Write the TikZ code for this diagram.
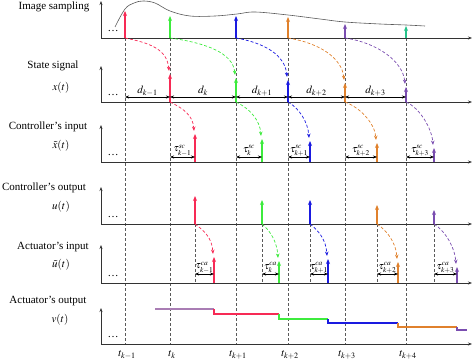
\documentclass[tikz,border=0pt]{standalone}
\usepackage{mathptmx}
\usepackage{fontspec}
\setmainfont{Liberation Serif}
\usetikzlibrary{arrows.meta, positioning, calc}
\definecolor{sigRed}{HTML}{F72A55}
\definecolor{sigGreen}{HTML}{3DEB3D}
\definecolor{sigBlue}{HTML}{1A1AE0}
\definecolor{sigOrange}{HTML}{E0812C}
\definecolor{sigPurple}{HTML}{7A4DB0}
\definecolor{sigTeal}{HTML}{26C28A}
\definecolor{sigMauve}{HTML}{A97DB4}
\colorlet{axisgray}{black!80}
\colorlet{gridgray}{black!65}

\begin{document}
\begin{tikzpicture}[x=1pt, y=-1pt,
  every node/.style={font=\fontsize{11}{13}\selectfont},
  axis/.style={draw=axisgray, line width=0.6pt, {Stealth[length=4pt,width=3pt]}-{Stealth[length=4pt,width=3pt]}},
  tline/.style={draw=gridgray, densely dashed, line width=0.4pt},
  pulse/.style={line width=1.1pt, -{Stealth[length=5pt,width=4pt]}},
  hop/.style={densely dashed, line width=0.7pt, -{Stealth[length=4.5pt,width=3.5pt]}},
  span/.style={line width=0.5pt, {Stealth[length=4pt,width=3pt]}-{Stealth[length=4pt,width=3pt]}},
  level/.style={line width=1.3pt},
  lab/.style={font=\fontsize{11}{13}\selectfont, inner sep=1pt},
  sublab/.style={font=\fontsize{10}{12}\selectfont, inner sep=1pt}
]
  \useasboundingbox (0,0) rectangle (474,361);

  \node (lImg) at (54,7) {Image sampling};
  \node (lState) at (53,66) {State signal};
  \node (lX) at (61,88) {$x(t)$};
  \node (lCin) at (48,127) {Controller’s input};
  \node (lXt) at (61,146) {$\tilde{x}(t)$};
  \node (lCout) at (44,188) {Controller’s output};
  \node (lU) at (61,207) {$u(t)$};
  \node (lAin) at (53,247) {Actuator’s input};
  \node (lUt) at (61,265) {$\tilde{u}(t)$};
  \node (lAout) at (48,301) {Actuator’s output};
  \node (lV) at (60,320) {$v(t)$};

  % time lines
  \foreach \x/\k in {125/k-1, 170/k, 236/k+1, 288/k+2, 345/k+3, 406/k+4} {
    \coordinate (tA\x) at (\x,38);
    \coordinate (tB\x) at (\x,344);
    \draw[tline] (tA\x) -- (tB\x) node[below=3pt, xshift=2pt] (tl\x) {$t_{\k}$};
  }

  % axes
  \foreach \r/\yb/\yt in {1/38/1, 2/102/66, 3/162/125, 4/224/187, 5/283/245, 6/344/308} {
    \coordinate (top\r) at (101,\yt);
    \coordinate (org\r) at (101,\yb);
    \coordinate (end\r) at (472,\yb);
    \draw[axis] (top\r) -- (org\r) -- (end\r);
    \node (dots\r) at (113,\yb-7) {\dots};
  }

  \draw[black!65, line width=0.6pt] plot[smooth, tension=0.6] coordinates {(115,27) (125,9) (134,3) (143,1) (155,3) (170,11) (190,16) (215,16) (237,14) (255,12) (288,15) (320,19) (345,22) (380,24) (406,25) (425,26)};

  \foreach \x/\h/\col [count=\i] in {125/11/sigRed, 170/16/sigGreen, 236/16/sigBlue, 288/17/sigOrange, 345/24/sigPurple, 406/26/sigTeal} {
    \coordinate (smp\i) at (\x,38);
    \coordinate (smpT\i) at (\x,\h);
    \draw[pulse, \col] (smp\i) -- (smpT\i);
  }

  \foreach \tp/\ts/\tc/\ta/\col/\hs/\hc/\ho/\ha/\k [count=\i] in {
    125/170/195/214/sigRed/74/134/196/257/k-1,
    170/236/262/279/sigGreen/78/139/200/261/k,
    236/288/310/328/sigBlue/80/141/200/259/k+1,
    288/345/377/398/sigOrange/83/143/205/262/k+2,
    345/406/434/457/sigPurple/87/148/210/267/k+3} {
    % state signal
    \coordinate (img\i) at (\tp,38);
    \coordinate (st\i) at (\ts,102);
    \coordinate (stT\i) at (\ts,\hs);
    \coordinate (stIn\i) at (\ts-1,\hs-3);
    \draw[hop, \col] (img\i) .. controls +({0.55*(\ts-\tp)},5) and +(-2,-22) .. (stIn\i);
    \draw[pulse, \col] (st\i) -- (stT\i);
    \coordinate (dL\i) at (\tp,97);
    \coordinate (dR\i) at (\ts,97);
    \draw[span] (dL\i) -- node[lab, above] (d\i) {$d_{\k}$} (dR\i);
    % controller
    \coordinate (ci\i) at (\tc,162);
    \coordinate (ciT\i) at (\tc,\hc);
    \coordinate (ciIn\i) at (\tc-1,\hc-3);
    \draw[hop, \col] (st\i) .. controls +({0.5*(\tc-\ts)},6) and +(-1,-16) .. (ciIn\i);
    \draw[pulse, \col] (ci\i) -- (ciT\i);
    \coordinate (scL\i) at (\ts,157);
    \coordinate (scR\i) at (\tc,157);
    \draw[span] (scL\i) -- node[sublab, above] (sc\i) {$\tau^{sc}_{\k}$} (scR\i);
    \coordinate (co\i) at (\tc,224);
    \coordinate (coT\i) at (\tc,\ho);
    \draw[pulse, \col] (co\i) -- (coT\i);
    \coordinate (cx\i) at (\tc,283);
    \draw[tline] (co\i) -- (cx\i);
    % actuator
    \coordinate (ai\i) at (\ta,283);
    \coordinate (aiT\i) at (\ta,\ha);
    \coordinate (aiIn\i) at (\ta-1,\ha-3);
    \draw[hop, \col] (co\i) .. controls +({0.5*(\ta-\tc)},7) and +(-1,-16) .. (aiIn\i);
    \draw[pulse, \col] (ai\i) -- (aiT\i);
    \coordinate (caL\i) at (\tc,274);
    \coordinate (caR\i) at (\ta,274);
    \draw[span] (caL\i) -- node[sublab, above] (ca\i) {$\tau^{ca}_{\k}$} (caR\i);
  }

  % actuator output
  \draw[level, sigMauve] (155,309) -- (214,309);
  \draw[level, sigRed] (214,309) -- (214,314) -- (279,314);
  \draw[level, sigGreen] (279,314) -- (279,319) -- (328,319);
  \draw[level, sigBlue] (328,319) -- (328,323) -- (398,323);
  \draw[level, sigOrange] (398,323) -- (398,327) -- (457,327);
  \draw[level, sigPurple] (457,327) -- (457,330) -- (467,330);
\end{tikzpicture}
\end{document}
